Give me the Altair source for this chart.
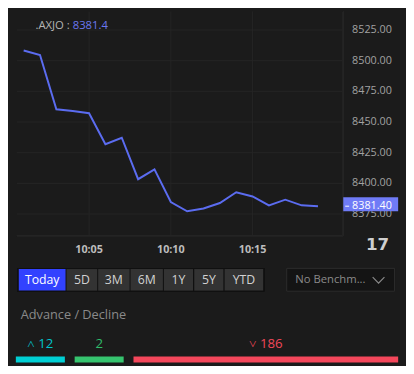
import altair as alt
import pandas as pd

# ---------------- data ----------------
minutes = [1, 2, 3, 4, 5, 6, 7, 8, 9, 10, 11, 12, 13, 14, 15, 16, 17, 18, 19]
values = [8508.3, 8504.6, 8460.4, 8458.9, 8457.2, 8431.9, 8437.2, 8403.4, 8411.4,
          8384.8, 8377.3, 8379.5, 8384.0, 8392.8, 8389.3, 8382.1, 8386.7, 8382.1, 8381.4]
y_ticks = [8375, 8400, 8425, 8450, 8475, 8500, 8525]
x_ticks = [5, 10, 15]
x_tick_labels = ["10:05", "10:10", "10:15"]
symbol = ".AXJO :"
last_price = 8381.4
buttons = ["Today", "5D", "3M", "6M", "1Y", "5Y", "YTD"]
selected_button = "Today"
benchmark = "No Benchm..."
section_title = "Advance / Decline"
breadth_names = ["Advance", "Unchanged", "Decline"]
breadth_counts = [12, 2, 186]
breadth_prefix = ["˄ ", "", "˅ "]

# ---------------- layout / style ----------------
W, H = 406, 358
BG = "#1b1b1b"
GRID = "#252525"
LINE = "#5b6cf0"
FONT = "Open Sans"

XS = alt.Scale(domain=[0.042, 24.383], nice=False, zero=False)
YS = alt.Scale(domain=[8254.07, 8540.02], nice=False, zero=False)

line_df = pd.DataFrame({"m": minutes, "v": values})
yt_df = pd.DataFrame({"v": y_ticks})
xt_df = pd.DataFrame({"m": x_ticks, "label": x_tick_labels})
last_df = pd.DataFrame({"v": [last_price], "sym": [symbol],
                        "top": [last_price + 7.3], "bot": [last_price - 4.1]})

# horizontal grid
hgrid = alt.Chart(yt_df).mark_rule(color=GRID, strokeWidth=1).encode(
    y=alt.Y("v:Q", scale=YS, axis=None), x=alt.value(9), x2=alt.value(342))
# vertical grid (ticks)
vgrid = alt.Chart(xt_df).mark_rule(color=GRID, strokeWidth=1).encode(
    x=alt.X("m:Q", scale=XS, axis=None), y=alt.value(0), y2=alt.value(228.7))
frame_b = alt.Chart(yt_df).mark_rule(color=GRID).encode(
    x=alt.value(9), x2=alt.value(342), y=alt.value(228.7))
frame_r = alt.Chart(yt_df).mark_rule(color=GRID).encode(
    x=alt.value(342), y=alt.value(0), y2=alt.value(228.7))

line = alt.Chart(line_df).mark_line(color=LINE, strokeWidth=2).encode(
    x=alt.X("m:Q", scale=XS, axis=None), y=alt.Y("v:Q", scale=YS, axis=None))

ylabels = alt.Chart(yt_df).mark_text(align="left", baseline="middle", font=FONT,
                                     fontSize=11, color="#a2a2a2").encode(
    x=alt.value(351), y=alt.Y("v:Q", scale=YS, axis=None),
    text=alt.Text("v:Q", format=".2f"))

xlabels = alt.Chart(xt_df).mark_text(align="center", baseline="middle", font=FONT,
                                     fontSize=11, fontWeight="bold", color="#bdbdbd").encode(
    x=alt.X("m:Q", scale=XS, axis=None), y=alt.value(243), text="label:N")

pbox = alt.Chart(last_df).mark_rect(color="#6f7bf6").encode(
    x=alt.value(342), x2=alt.value(398),
    y=alt.Y("top:Q", scale=YS, axis=None), y2="bot:Q")
ptick = alt.Chart(last_df).mark_rule(color="#ffffff").encode(
    x=alt.value(344), x2=alt.value(348), y=alt.Y("v:Q", scale=YS, axis=None))
ptext = alt.Chart(last_df).mark_text(align="left", baseline="middle", font=FONT,
                                     fontSize=11, color="#ffffff").encode(
    x=alt.value(351), y=alt.Y("v:Q", scale=YS, axis=None),
    text=alt.Text("v:Q", format=".2f"))

sym_text = alt.Chart(last_df).mark_text(align="left", baseline="middle", font=FONT,
                                        fontSize=11.5, color="#b4b4b4").encode(
    x=alt.value(28), y=alt.value(15), text="sym:N")
sym_val = alt.Chart(last_df).mark_text(align="left", baseline="middle", font=FONT,
                                       fontSize=11.5, color="#6b78f0").encode(
    x=alt.value(66), y=alt.value(15), text=alt.Text("v:Q", format=".1f"))

logo = alt.Chart(last_df).mark_text(align="center", baseline="middle", font="DejaVu Sans",
                                    fontSize=17, fontWeight="bold", color="#cfcfcf").encode(
    x=alt.value(377), y=alt.value(238), text=alt.value("17"))

# ---------------- buttons ----------------
edges = [(11, 58.7), (59.7, 91), (92, 124), (125, 158), (159, 188.7), (190, 219.7), (221, 260.3)]
btn_df = pd.DataFrame({
    "label": buttons,
    "x0": [e[0] for e in edges],
    "x1": [e[1] for e in edges],
})
btn_df["xc"] = (btn_df.x0 + btn_df.x1) / 2
btn_df["fill"] = ["#3242ff" if b == selected_button else "#333333" for b in buttons]
btn_df["tc"] = ["#ffffff" if b == selected_button else "#d2d2d2" for b in buttons]

btn_group = alt.Chart(btn_df).mark_rect(color="#101010").encode(
    x=alt.value(10), x2=alt.value(261.3), y=alt.value(261.7), y2=alt.value(285.7))
btn_rects = alt.Chart(btn_df).mark_rect().encode(
    x=alt.X("x0:Q", scale=None), x2="x1:Q",
    y=alt.value(262.7), y2=alt.value(284.7),
    fill=alt.Color("fill:N", scale=None))
btn_text = alt.Chart(btn_df).mark_text(align="center", baseline="middle", font=FONT,
                                       fontSize=12.5).encode(
    x=alt.X("xc:Q", scale=None), y=alt.value(274),
    text="label:N", color=alt.Color("tc:N", scale=None))

dd_df = pd.DataFrame({"label": [benchmark]})
dd_box = alt.Chart(dd_df).mark_rect(fill="#141414", stroke="#2c2c2c", strokeWidth=1).encode(
    x=alt.value(284.3), x2=alt.value(394.3), y=alt.value(262), y2=alt.value(285.3))
dd_text = alt.Chart(dd_df).mark_text(align="left", baseline="middle", font=FONT,
                                     fontSize=11.5, color="#8a8a8a").encode(
    x=alt.value(293), y=alt.value(274), text="label:N")
chev_df = pd.DataFrame({"px": [372, 378, 384], "py": [271, 277, 271]})
dd_chev = alt.Chart(chev_df).mark_line(color="#8a8a8a", strokeWidth=1.2).encode(
    x=alt.X("px:Q", scale=None), y=alt.Y("py:Q", scale=None), order="px:Q")

title = alt.Chart(dd_df).mark_text(align="left", baseline="middle", font=FONT,
                                   fontSize=13, color="#8a8a8a").encode(
    x=alt.value(13), y=alt.value(309.5), text=alt.value(section_title))

# ---------------- advance / decline bar ----------------
TOTAL_UNITS, GAP, MIN_W = 390, 10, 50
avail = TOTAL_UNITS - GAP * (len(breadth_counts) - 1)
tot = sum(breadth_counts)
widths = [max(MIN_W, c / tot * avail) for c in breadth_counts]
big = breadth_counts.index(max(breadth_counts))
widths[big] = avail - sum(w for i, w in enumerate(widths) if i != big)
starts, pos = [], 0
for w in widths:
    starts.append(pos)
    pos += w + GAP
bar_df = pd.DataFrame({
    "name": breadth_names,
    "count": breadth_counts,
    "s": starts,
    "e": [s + w for s, w in zip(starts, widths)],
    "label": [p + str(c) for p, c in zip(breadth_prefix, breadth_counts)],
    "bar_c": ["#00cfd4", "#36c46f", "#f4475b"],
    "txt_c": ["#00c5cc", "#2fbd6a", "#f0485a"],
})
bar_df["mid"] = (bar_df.s + bar_df.e) / 2
BS = alt.Scale(domain=[0, TOTAL_UNITS], range=[8, 398], nice=False, zero=False)

bars = alt.Chart(bar_df).mark_rect().encode(
    x=alt.X("s:Q", scale=BS, axis=None), x2="e:Q",
    y=alt.value(352), y2=alt.value(358),
    fill=alt.Color("bar_c:N", scale=None))
bar_text = alt.Chart(bar_df).mark_text(align="center", baseline="middle", font=FONT,
                                       fontSize=13.5).encode(
    x=alt.X("mid:Q", scale=BS, axis=None), y=alt.value(339),
    text="label:N", color=alt.Color("txt_c:N", scale=None))

chart = alt.layer(
    hgrid, vgrid, frame_b, frame_r, line, ylabels, xlabels, pbox, ptick, ptext,
    sym_text, sym_val, logo,
    btn_group, btn_rects, btn_text, dd_box, dd_text, dd_chev, title,
    bars, bar_text,
).resolve_scale(x="independent", y="independent", color="independent"
).properties(
    width=W, height=H, padding=0, background=BG,
    autosize=alt.AutoSizeParams(type="none"),
).configure_view(stroke=None)

chart.save("out.html", embed_options={"renderer": "svg", "actions": False})
